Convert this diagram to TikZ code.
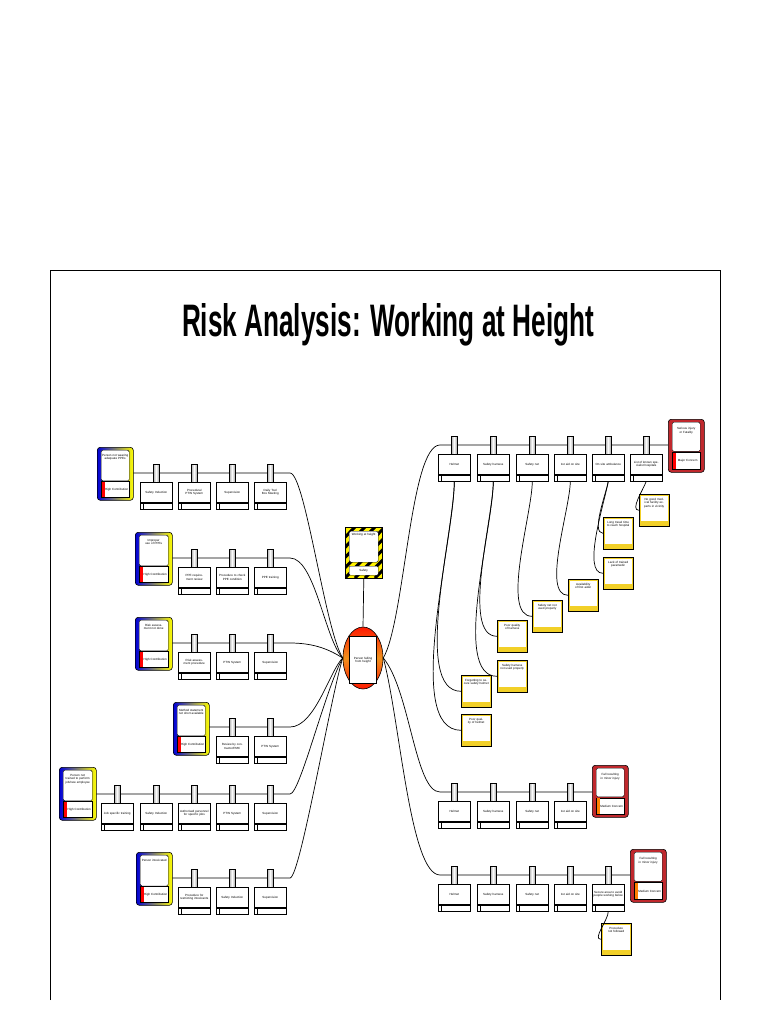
\documentclass[tikz,border=0pt]{standalone}
\usepackage{fontspec}
\setmainfont{Liberation Sans}
\usetikzlibrary{shapes.geometric}
\definecolor{cred}{HTML}{C0282D}
\definecolor{cyel}{HTML}{F2D028}
\definecolor{corg}{HTML}{F0901C}
\tikzset{
 tiny/.style={font=\fontsize{3}{3.5}\selectfont},
 bbox/.style={draw,fill=white,line width=0.6pt,minimum width=32pt,minimum height=20pt,text width=30pt,inner sep=0.5pt,align=center,tiny},
 bstrip/.style={draw,fill=white,line width=0.6pt,minimum width=32pt,minimum height=6pt,inner sep=0pt},
 tab/.style={draw,line width=0.4pt,left color=gray!70,right color=gray!70,middle color=white},
 conn/.style={line width=0.7pt},
 inner/.style={draw,fill=white,rounded corners=1.5pt,inner sep=0.5pt,align=center,tiny,anchor=north west},
}
\newcommand\barr[4]{%
 \path[tab] (#2+13,#3-9) rectangle (#2+19,#3+9);
 \node[bbox,anchor=north west] (#1) at (#2,#3+9) {#4};
 \node[bstrip,anchor=north west] (#1s) at (#1.south west) {};
 \draw ([xshift=3pt]#1s.north west) -- ([xshift=3pt]#1s.south west);}
% name x y w h toptext bottomtext
\newcommand\threat[7]{%
 \node[draw,line width=0.6pt,rounded corners=3pt,left color=blue!85!black,right color=yellow,minimum width=#4pt,minimum height=#5pt,anchor=north west,inner sep=0pt] (#1) at (#2,#3) {};
 \node[inner,minimum width=#4pt-8pt,text width=#4pt-9pt,minimum height=#5pt*0.58,text depth=#5pt*0.4] at (#2+4,#3+3) {#6};
 \node[draw,fill=white,inner sep=0.5pt,anchor=north west,minimum width=#4pt-8pt,minimum height=#5pt*0.3,tiny] at (#2+4,#3+#5*0.65) {\hspace{3pt}#7};
 \fill[red] (#2+4.5,#3+#5*0.65+0.5) rectangle (#2+7.5,#3+#5*0.95-0.5);}
\newcommand\cons[8]{%
 \node[draw,line width=0.6pt,rounded corners=3pt,fill=cred,minimum width=#4pt,minimum height=#5pt,anchor=north west,inner sep=0pt] (#1) at (#2,#3) {};
 \node[inner,minimum width=#4pt-8pt,text width=#4pt-9pt,minimum height=#5pt*0.55,text depth=#5pt*0.3] at (#2+4,#3+3) {#6};
 \node[draw,fill=white,inner sep=0.5pt,anchor=north west,minimum width=#4pt-8pt,minimum height=#5pt*0.32,tiny] at (#2+4,#3+#5*0.63) {\hspace{3pt}#7};
 \fill[#8] (#2+4.5,#3+#5*0.63+0.5) rectangle (#2+7.5,#3+#5*0.95-0.5);}
% escalation: name x y text
\newcommand\esc[4]{%
 \node[draw,line width=0.6pt,fill=cyel,minimum width=30pt,minimum height=32pt,anchor=north west,inner sep=0pt] (#1) at (#2,#3) {};
 \node[fill=white,inner sep=0.5pt,anchor=north west,minimum width=27pt,minimum height=25pt,text width=26pt,align=center,tiny,text depth=18pt] at (#2+1.5,#3+1.5) {#4};}
\begin{document}
\begin{tikzpicture}[x=1pt,y=-1pt]
\useasboundingbox (0,0) rectangle (768,1024);
\fill[white] (0,0) rectangle (768,1024);
\draw[line width=0.6pt] (50,1000) -- (50,270) -- (720,270) -- (720,1000);
\node (title) at (388,325) {\resizebox{412pt}{33pt}{\bfseries Risk Analysis: Working at Height}};

% hazard
\begin{scope}
\clip (345,527) rectangle (382,578);
\fill[yellow] (345,527) rectangle (382,578);
\foreach \i in {-60,-50,...,60} \draw[line width=3pt] (345+\i,578) -- (395+\i,527);
\end{scope}
\node[draw,line width=0.6pt,minimum width=37pt,minimum height=51pt,anchor=north west,inner sep=0pt] (haz) at (345,527) {};
\node[inner,minimum width=29pt,minimum height=31pt,text width=28pt,text depth=24pt] at (349,531) {Working at height};
\node[draw,fill=white,rounded corners=1pt,inner sep=0.5pt,anchor=north west,minimum width=29pt,minimum height=9pt,tiny] at (349,566) {Safety};

% top event
\node[ellipse,draw,line width=0.6pt,minimum width=40pt,minimum height=62pt,top color=red!80!orange,bottom color=red!80!orange,middle color=corg] (ell) at (363,658) {};
\node[draw,fill=white,minimum width=27pt,minimum height=47pt,text width=25pt,align=center,tiny,inner sep=0.5pt] at (363,660) {Person falling from height};
\draw[conn] (haz.south) -- (ell.north);

% left connectors
\coordinate (l1) at (290,473); \coordinate (l2) at (290,558); \coordinate (l3) at (290,643);
\coordinate (l4) at (290,727); \coordinate (l5) at (290,794); \coordinate (l6) at (290,878);
\draw[conn] (133,473) -- (l1) .. controls (305,473) and (325,630) .. (ell.west);
\draw[conn] (172,558) -- (l2) .. controls (315,558) and (325,640) .. (ell.west);
\draw[conn] (172,643) -- (l3) .. controls (315,643) and (330,650) .. (ell.west);
\draw[conn] (209,727) -- (l4) .. controls (315,727) and (330,670) .. (ell.west);
\draw[conn] (96,794) -- (l5) .. controls (300,794) and (325,690) .. (ell.west);
\draw[conn] (172,878) -- (l6) .. controls (300,878) and (330,700) .. (ell.west);

% right connectors
\coordinate (r1) at (440,445); \coordinate (r2) at (440,792); \coordinate (r3) at (440,875);
\draw[conn] (ell.east) .. controls (405,620) and (410,445) .. (r1) -- (668,445);
\draw[conn] (ell.east) .. controls (410,690) and (415,792) .. (r2) -- (592,792);
\draw[conn] (ell.east) .. controls (400,720) and (410,875) .. (r3) -- (630,875);

% threats
\threat{t1}{97}{447}{36}{53}{Person not wearing adequate PPEs}{High Contribution}
\threat{t2}{135}{532}{37}{53}{Improper use of PPEs}{High Contribution}
\threat{t3}{135}{617}{37}{53}{Risk assessment not done}{High Contribution}
\threat{t4}{173}{702}{36}{53}{Method statement not short available}{High Contribution}
\threat{t5}{59}{767}{37}{53}{Person not trained to perform job/new employee}{High Contribution}
\threat{t6}{136}{852}{36}{53}{Person intoxicated}{High Contribution}

% left barriers
\barr{a1}{140}{473}{Safety Induction}
\barr{a2}{178}{473}{Procedural PTW System}
\barr{a3}{216}{473}{Supervision}
\barr{a4}{254}{473}{Daily Tool Box Meeting}
\barr{b1}{178}{558}{PPE requirement review}
\barr{b2}{216}{558}{Procedure to check PPE condition}
\barr{b3}{254}{558}{PPE training}
\barr{c1}{178}{643}{Risk assessment procedure}
\barr{c2}{216}{643}{PTW System}
\barr{c3}{254}{643}{Supervision}
\barr{d1}{216}{727}{Review by contractor/PMC}
\barr{d2}{254}{727}{PTW System}
\barr{e1}{101}{794}{Job specific training}
\barr{e2}{140}{794}{Safety Induction}
\barr{e3}{178}{794}{Authorised personnel for specific jobs}
\barr{e4}{216}{794}{PTW System}
\barr{e5}{254}{794}{Supervision}
\barr{f1}{178}{878}{Procedure for restricting intoxicants}
\barr{f2}{216}{878}{Safety Induction}
\barr{f3}{254}{878}{Supervision}

% right barriers
\barr{g1}{438}{445}{Helmet}
\barr{g2}{477}{445}{Safety harness}
\barr{g3}{516}{445}{Safety net}
\barr{g4}{554}{445}{1st aid on site}
\barr{g5}{592}{445}{On site ambulance}
\barr{g6}{630}{445}{List of known specialist hospitals}
\barr{h1}{438}{792}{Helmet}
\barr{h2}{477}{792}{Safety harness}
\barr{h3}{516}{792}{Safety net}
\barr{h4}{554}{792}{1st aid on site}
\barr{k1}{438}{875}{Helmet}
\barr{k2}{477}{875}{Safety harness}
\barr{k3}{516}{875}{Safety net}
\barr{k4}{554}{875}{1st aid on site}
\barr{k5}{592}{875}{Secure area to avoid people working below}

% consequences
\cons{q1}{668}{419}{36}{53}{Serious injury or Fatality}{Major Concern}{red}
\cons{q2}{592}{765}{36}{52}{Fall resulting in minor injury}{Medium Concern}{orange}
\cons{q3}{630}{849}{36}{53}{Fall resulting in minor injury}{Medium Concern}{orange}

% escalation factors
\esc{x1}{461}{675}{Forgetting to secure safety helmet}
\esc{x2}{461}{714}{Poor quality of helmet}
\esc{x3}{497}{620}{Poor quality of harness}
\esc{x4}{497}{660}{Safety harness not used properly}
\esc{x5}{532}{600}{Safety net not used properly}
\esc{x6}{568}{579}{Availability of first aider}
\esc{x7}{603}{517}{Long travel time to reach hospital}
\esc{x8}{603}{557}{Lack of trained paramedic}
\esc{x9}{639}{494}{No good medical facility experts in vicinity}
\esc{x10}{601}{923}{Procedure not followed}
\draw[conn] (g1s.south) to[out=-90,in=180,looseness=0.6] (x1.west);
\draw[conn] (g1s.south) to[out=-90,in=180,looseness=0.6] (x2.west);
\draw[conn] (g2s.south) to[out=-90,in=180,looseness=0.6] (x3.west);
\draw[conn] (g2s.south) to[out=-90,in=180,looseness=0.6] (x4.west);
\draw[conn] (g3s.south) to[out=-90,in=180,looseness=0.6] (x5.west);
\draw[conn] (g4s.south) to[out=-90,in=180,looseness=0.6] (x6.west);
\draw[conn] (g5s.south) to[out=-100,in=180,looseness=0.6] (x7.west);
\draw[conn] (g5s.south) to[out=-100,in=180,looseness=0.6] (x8.west);
\draw[conn] (g6s.south) to[out=-110,in=180,looseness=0.8] (x9.west);
\draw[conn] (k5s.south) to[out=-90,in=180,looseness=0.8] (x10.west);
\end{tikzpicture}
\end{document}
